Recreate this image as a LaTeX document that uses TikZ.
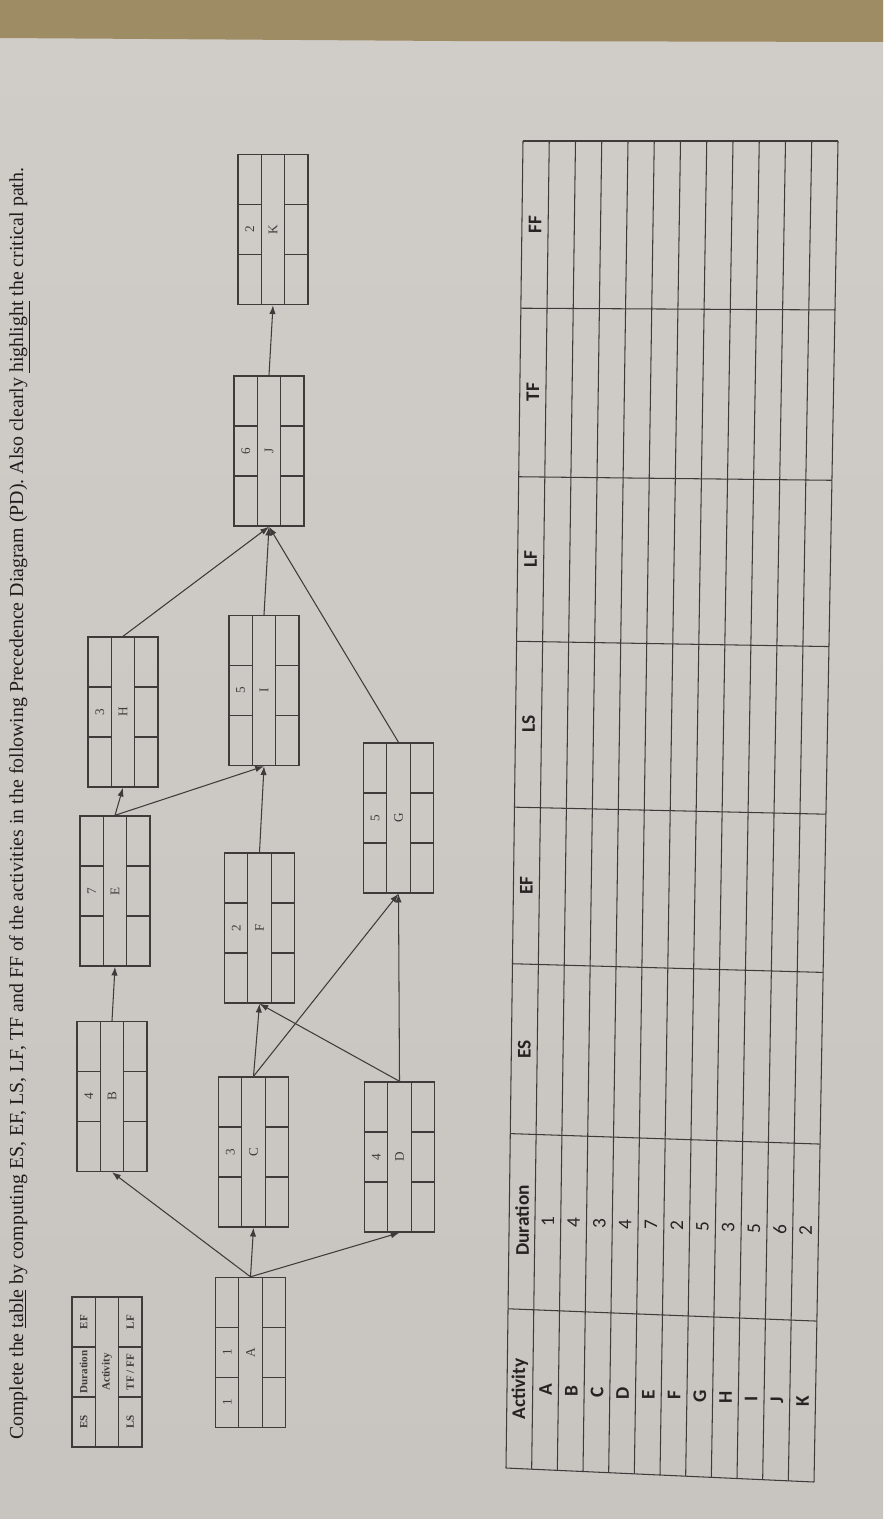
\documentclass[tikz,border=0pt]{standalone}
\usepackage{fontspec}
\setmainfont{Liberation Serif}
\newfontfamily\tabfont{Carlito}
\usetikzlibrary{calc,arrows.meta,positioning}
\definecolor{paper}{RGB}{200,197,193}
\definecolor{papertop}{RGB}{208,205,201}
\definecolor{desk}{RGB}{158,140,100}
\definecolor{ink}{RGB}{62,60,58}
\tikzset{
  actbox/.style={draw=ink, line width=0.8pt, minimum width=14mm, minimum height=30mm, inner sep=0pt},
  boxline/.style={draw=ink, line width=0.7pt},
  boxtext/.style={rotate=90, font=\fontsize{7.5}{8}\selectfont, text=ink, inner sep=0pt},
  legtext/.style={rotate=90, font=\bfseries\fontsize{6.3}{7}\selectfont, text=ink, inner sep=0pt},
  link/.style={draw=ink, line width=0.6pt, -{Latex[length=5pt,width=3.6pt]}},
  tabline/.style={draw=ink, line width=0.6pt},
  headtext/.style={rotate=90, font=\tabfont\bfseries\fontsize{11}{13}\selectfont, text=ink!60!black},
  celltext/.style={rotate=90, font=\tabfont\fontsize{11}{13}\selectfont, text=ink!60!black},
}
% one activity box: name, x, y
\newcommand{\pdgrid}[3]{%
  \node[actbox] (#1) at (#2,#3) {};
  \draw[boxline] (#2-11.67,#3-75) -- (#2-11.67,#3+75);
  \draw[boxline] (#2+11.67,#3-75) -- (#2+11.67,#3+75);
  \foreach \dy in {-25,25} {
    \draw[boxline] (#2-35,#3+\dy) -- (#2-11.67,#3+\dy);
    \draw[boxline] (#2+11.67,#3+\dy) -- (#2+35,#3+\dy);
  }
}
% box with duration and activity
\newcommand{\pdbox}[5]{%
  \pdgrid{#1}{#2}{#3}
  \node[boxtext] (#1d) at (#2-23.3,#3) {#4};
  \node[boxtext] (#1a) at (#2,#3) {#5};
}

\begin{document}
\begin{tikzpicture}[x=0.2mm, y=-0.2mm]
\useasboundingbox (0,0) rectangle (883,1519);
\shade[top color=papertop, bottom color=paper] (0,0) rectangle (883,1519);
\fill[desk] (0,0) -- (883,0) -- (883,42) -- (450,41) -- (0,38) -- cycle;

\node[rotate=90, anchor=west, inner sep=0pt, font=\fontsize{11.3}{13}\selectfont, text=ink!50!black] (title) at (20,1440)
  {Complete the \underline{table} by computing ES, EF, LS, LF, TF and FF of the activities in the following Precedence Diagram (PD). Also clearly \underline{highlight} the critical path.};

% legend
\pdgrid{key}{107}{1372}
\node[legtext] (kes) at (83.7,1422) {ES};
\node[legtext] (kdur) at (83.7,1372) {Duration};
\node[legtext] (kef) at (83.7,1322) {EF};
\node[legtext] (kact) at (107,1372) {Activity};
\node[legtext] (kls) at (130.3,1422) {LS};
\node[legtext] (ktf) at (130.3,1372) {TF / FF};
\node[legtext] (klf) at (130.3,1322) {LF};

% activities
\pdbox{A}{250.5}{1352.5}{1}{A}
\node[boxtext] (Aes) at (227.2,1402.5) {1};
\pdbox{B}{112}{1096.5}{4}{B}
\pdbox{C}{253.5}{1152}{3}{C}
\pdbox{D}{399.5}{1157}{4}{D}
\pdbox{E}{115}{891}{7}{E}
\pdbox{F}{259.5}{928}{2}{F}
\pdbox{G}{398.5}{818}{5}{G}
\pdbox{H}{123}{712}{3}{H}
\pdbox{I}{264}{690.5}{5}{I}
\pdbox{J}{269}{451}{6}{J}
\pdbox{K}{273}{229.5}{2}{K}

\draw[link] (A.north) -- (B.south);
\draw[link] (A.north) -- (C.south);
\draw[link] (A.north) -- (D.south);
\draw[link] (B.north) -- (E.south);
\draw[link] (C.north) -- (F.south);
\draw[link] (C.north) -- (G.south);
\draw[link] (D.north) -- (F.south);
\draw[link] (D.north) -- (G.south);
\draw[link] (E.north) -- (H.south);
\draw[link] (E.north) -- (I.south);
\draw[link] (F.north) -- (I.south);
\draw[link] (H.north) -- (J.south);
\draw[link] (I.north) -- (J.south);
\draw[link] (G.north) -- (J.south);
\draw[link] (J.north) -- (K.south);

% table
\coordinate (tl) at (523,141);
\coordinate (tr) at (838,141);
\coordinate (bl) at (506,1468);
\coordinate (br) at (814,1482);
\foreach \i in {0,...,12}
  \draw[tabline] ($(tl)!\i/12!(tr)$) -- ($(bl)!\i/12!(br)$);
\foreach \f in {0,0.126,0.253,0.377,0.502,0.620,0.748,0.880,1}
  \draw[tabline] ($(tl)!\f!(bl)$) -- ($(tr)!\f!(br)$);

\foreach \h/\f [count=\c] in {Activity/0.94,Duration/0.813,ES/0.684,EF/0.561,LS/0.439,LF/0.315,TF/0.189,FF/0.063}
  {
    \coordinate (cl\c) at ($(tl)!\f!(bl)$);
    \coordinate (cr\c) at ($(tr)!\f!(br)$);
    \node[headtext] (h\c) at ($(cl\c)!{0.5/12}!(cr\c)$) {\h};
  }
\foreach \lab/\dur [count=\r] in {A/1,B/4,C/3,D/4,E/7,F/2,G/5,H/3,I/5,J/6,K/2}
  {
    \node[headtext] (r\lab) at ($(cl1)!{(\r+0.5)/12}!(cr1)$) {\lab};
    \node[celltext] (d\lab) at ($(cl2)!{(\r+0.5)/12}!(cr2)$) {\dur};
  }
\end{tikzpicture}
\end{document}
